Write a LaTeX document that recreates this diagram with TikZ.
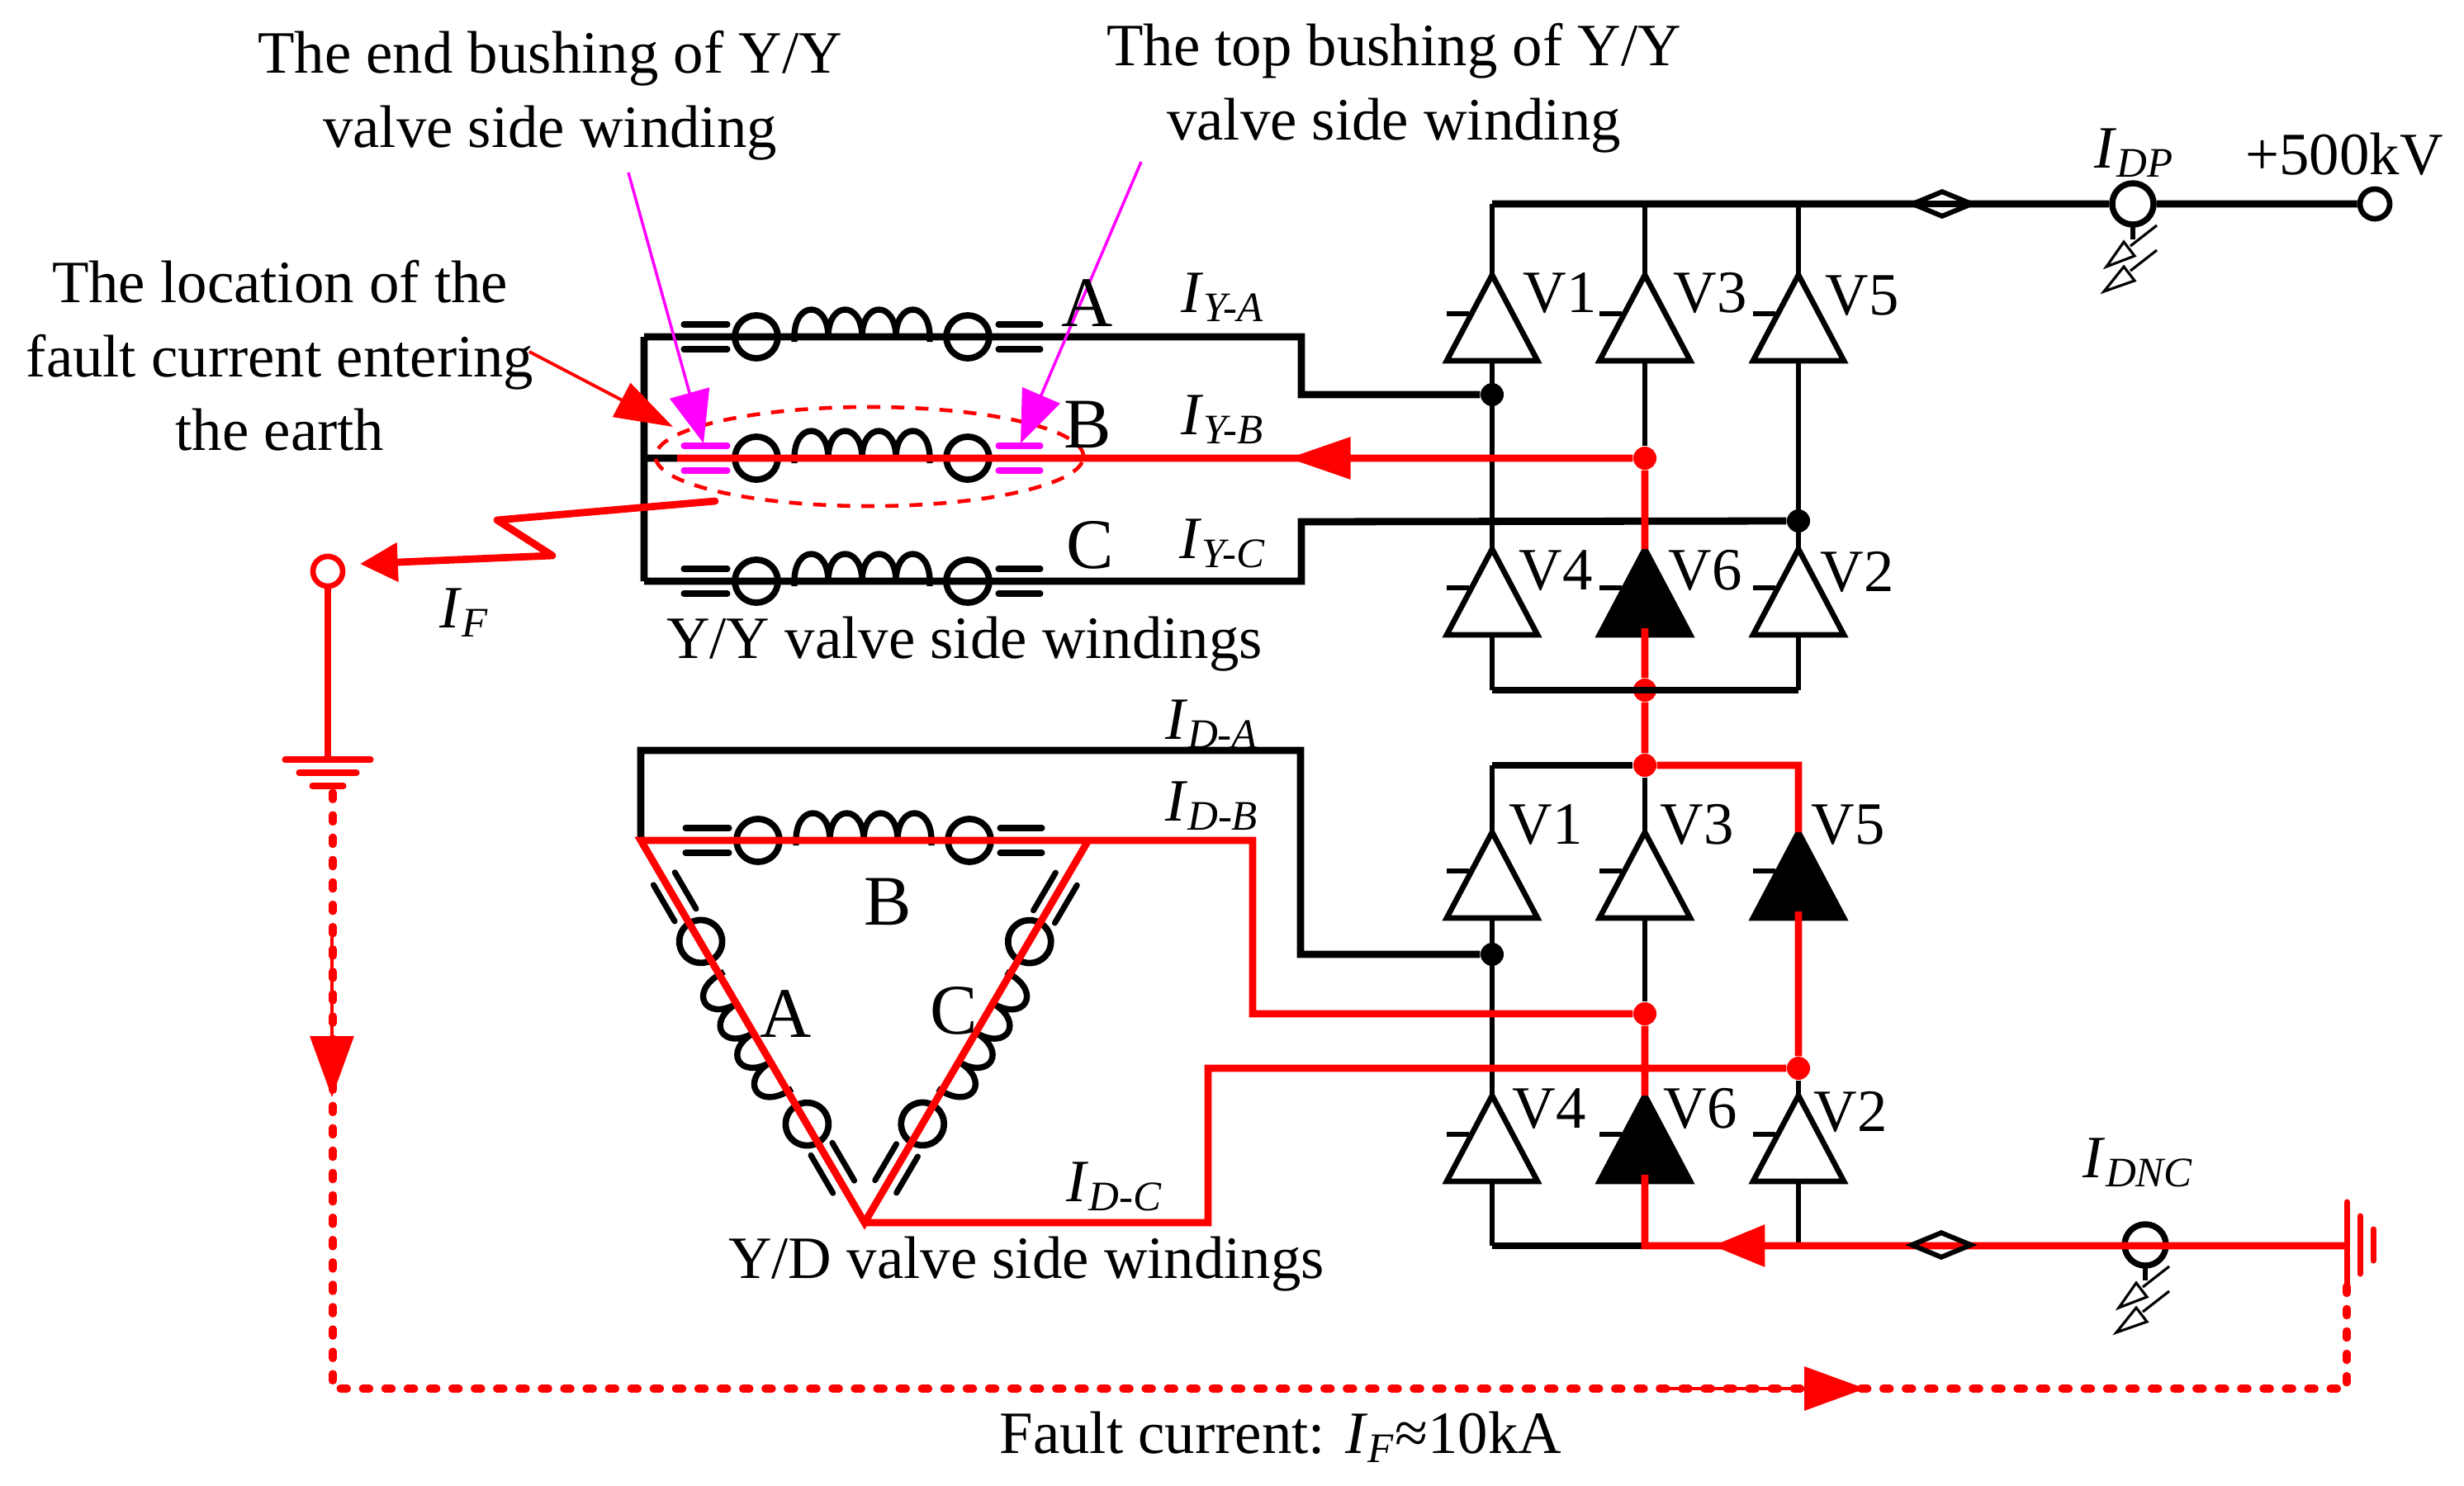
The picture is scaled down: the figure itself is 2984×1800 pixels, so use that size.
\documentclass[tikz,border=0pt]{standalone}
\usepackage{fontspec}
\setmainfont{Liberation Serif}
\usetikzlibrary{
    arrows.meta,
    shapes.geometric
}
\definecolor{bushing}{RGB}{255,0,255}
\definecolor{fault}{RGB}{255,0,0}
\newcommand{\curr}[1]{\textit{I}\textsubscript{\textit{#1}}}
\tikzset{
    wire/.style={line width=1.9pt},
    bus/.style={line width=2.5pt},
    barline/.style={line width=2pt, line cap=round},
    redwire/.style={line width=2.5pt, fault},
    faultdash/.style={line width=2.6pt, fault, line cap=round, dash pattern=on 2.4pt off 5.3pt},
    headed/.style 2 args={-{Triangle[length=#1, width=#2]}},
    dot/.style={circle, fill, inner sep=0pt, minimum size=0.28cm},
    ctcoil/.style={circle, draw, line width=2.1pt, inner sep=0pt, minimum size=0.5cm},
    terminal/.style={circle, draw, line width=1.9pt, inner sep=0pt, minimum size=0.32cm},
    filter/.style={diamond, draw, line width=1.7pt, inner sep=0pt, minimum width=0.74cm, minimum height=0.32cm},
    lbl/.style={inner sep=0pt, align=center, font=\fontsize{20.7}{25.5}\selectfont},
    phase/.style={inner sep=0pt, font=\fontsize{24.5}{28}\selectfont},
    windingbars/.style={},
    winding/.pic={
        \draw[barline, windingbars] (-216, -15) -- (-163, -15) (-216, 15) -- (-163, 15)
            (165, -15) -- (216, -15) (165, 15) -- (216, 15);
        \draw[line width=2.2pt] (-128, 0) circle (26) (128, 0) circle (26);
        \draw[line width=2.1pt] (-82, 6) -- (-82, 0)
            .. controls (-82, -44) and (-41, -44) .. (-41, 0)
            .. controls (-41, -44) and (0, -44) .. (0, 0)
            .. controls (0, -44) and (41, -44) .. (41, 0)
            .. controls (41, -44) and (82, -44) .. (82, 0) -- (82, 6);
    },
    valve/.pic={
        \coordinate (-a) at (0, 0);
        \coordinate (-k) at (0, 104);
        \draw[wire, pic actions] (0, 0) -- (55, 104) -- (-55, 104) -- cycle;
        \draw[wire] (-55, 47) -- (-28, 47);
    },
    ledpair/.pic={
        \draw[wire] (0, 0) -- (0, 17);
        \draw[line width=0.9pt] (29, 0) -- (-3, 25) (-11, 20) -- (2, 37) -- (-32, 50) -- cycle
            (29, 30) -- (-3, 55) (-11, 50) -- (2, 67) -- (-35, 80) -- cycle;
    },
    earth/.pic={
        \draw[barline, fault] (-52, 0) -- (52, 0) (-35, 16) -- (35, 16) (-19, 32) -- (19, 32);
    }
}
\begin{document}
\begin{tikzpicture}[x=0.01cm, y=-0.01cm]
    \useasboundingbox (0, 0) rectangle (2984, 1800);

    \coordinate (frameA) at (780, 408);
    \coordinate (frameB) at (780, 555);
    \coordinate (frameC) at (780, 704);
    \coordinate (stubB) at (820, 555);
    \coordinate (stepA) at (1576, 408);
    \coordinate (stepAlow) at (1576, 478);
    \coordinate (stepC) at (1576, 704);
    \coordinate (stepClow) at (1576, 632);
    \coordinate (top1) at (1807, 247);
    \coordinate (top2) at (1992, 247);
    \coordinate (top3) at (2178, 247);
    \coordinate (mid1) at (1807, 836);
    \coordinate (mid3) at (2178, 836);
    \coordinate (low1) at (1807, 927);
    \coordinate (low3) at (2178, 927);
    \coordinate (end1) at (1807, 1509);
    \coordinate (end2) at (1992, 1509);
    \coordinate (end3) at (2178, 1509);
    \coordinate (gndR) at (2842, 1509);
    \coordinate (deltaL) at (776, 1018);
    \coordinate (deltaR) at (1318, 1018);
    \coordinate (deltaB) at (1047, 1481);
    \coordinate (loopA) at (776, 909);
    \coordinate (loopAr) at (1575, 909);
    \coordinate (loopAd) at (1575, 1156);
    \coordinate (stepDB) at (1517, 1018);
    \coordinate (stepDBd) at (1517, 1228);
    \coordinate (stepDC) at (1463, 1481);
    \coordinate (stepDCu) at (1463, 1294);

    \pic (wYA) at (1044, 408) {winding};
    \pic[windingbars/.style={bushing}] (wYB) at (1044, 555) {winding};
    \pic (wYC) at (1044, 704) {winding};
    \pic (wDB) at (1046, 1018) {winding};
    \pic[rotate=120.2] (wDA) at (913, 1251) {winding};
    \pic[rotate=239.6] (wDC) at (1182, 1251) {winding};

    \pic (yV1) at (1807, 333) {valve};
    \pic (yV3) at (1992, 333) {valve};
    \pic (yV5) at (2178, 333) {valve};
    \pic (yV4) at (1807, 665) {valve};
    \pic[fill=black] (yV6) at (1992, 665) {valve};
    \pic (yV2) at (2178, 665) {valve};
    \pic (dV1) at (1807, 1008) {valve};
    \pic (dV3) at (1992, 1008) {valve};
    \pic[fill=black] (dV5) at (2178, 1008) {valve};
    \pic (dV4) at (1807, 1327) {valve};
    \pic[fill=black] (dV6) at (1992, 1327) {valve};
    \pic (dV2) at (2178, 1327) {valve};

    \node[dot] (jYA) at (1807, 478) {};
    \node[dot] (jYC) at (2178, 631) {};
    \node[dot] (jDA) at (1807, 1156) {};
    \node[dot, fault] (jYB) at (1992, 555) {};
    \node[dot, fault] (jMid) at (1992, 836) {};
    \node[dot, fault] (jLow) at (1992, 927) {};
    \node[dot, fault] (jDB) at (1992, 1228) {};
    \node[dot, fault] (jDC) at (2178, 1294) {};

    \node[terminal, minimum size=0.36cm] (termP) at (2876, 247) {};
    \node[ctcoil] (ctP) at (2583, 247) {};
    \node[ctcoil] (ctN) at (2598, 1508) {};
    \node[terminal, fault, minimum size=0.36cm] (termF) at (397, 692) {};

    \draw[bus] (frameB) -- (stubB)
    (frameA) -- (frameC)
    (frameA) -- (stepA) -- (stepAlow) -- (jYA)
    (frameC) -- (stepC) -- (stepClow) -- (jYC)
    (deltaL) -- (loopA) -- (loopAr) -- (loopAd) -- (jDA)
    (top1) -- (ctP) (ctP) -- (termP);
    \draw[wire]
    (top1) -- (yV1-a)
    (top2) -- (yV3-a)
    (top3) -- (yV5-a)
    (yV1-k) -- (yV4-a)
    (yV3-k) -- (jYB)
    (yV5-k) -- (yV2-a)
    (dV1-k) -- (dV4-a)
    (dV3-k) -- (jDB)
    (low1) -- (dV1-a)
    (jLow) -- (dV3-a)
    (jDC) -- (dV2-a)
    (yV4-k) -- (mid1)
    (yV2-k) -- (mid3)
    (dV4-k) -- (end1)
    (dV2-k) -- (end3);
    \draw[bus] (mid1) -- (mid3) (low1) -- (jLow) (end1) -- (end2);

    \draw[redwire] (stubB) -- (jYB)
    (jYB) -- (yV6-a)
    ([yshift=0.08cm]yV6-k) -- (jMid) -- (jLow) -- (low3) -- (dV5-a)
    ([yshift=0.08cm]dV5-k) -- (jDC)
    (jDB) -- (dV6-a)
    ([yshift=0.08cm]dV6-k) -- (end2) -- (gndR)
    (deltaL) -- (deltaR) -- (deltaB) -- cycle
    (deltaR) -- (stepDB) -- (stepDBd) -- (jDB)
    (deltaB) -- (stepDC) -- (stepDCu) -- (jDC);

    \node[filter, fill=white] (filterP) at (2352, 247) {};
    \draw[bus] (filterP.west) -- (filterP.east);
    \node[filter] (filterN) at (2351, 1508) {};
    \pic (ledP) at (2583, 273) {ledpair};
    \pic (ledN) at (2598, 1534) {ledpair};

    \draw[redwire, headed={21.5pt}{14pt}] (1650, 555) -- (1560, 555);
    \draw[redwire, headed={18pt}{14pt}] (2150, 1509) -- (2074, 1509);

    \node[ellipse, draw=fault, line width=1.3pt, dash pattern=on 4.5pt off 3.8pt, inner sep=0pt,
        minimum width=5.18cm, minimum height=1.2cm] (zone) at (1053, 553) {};
    \draw[bushing, line width=1pt, headed={18pt}{14pt}] (761, 209) -- (852, 537);
    \draw[bushing, line width=1pt, headed={18pt}{14pt}] (1382, 196) -- (1236, 537);
    \draw[fault, line width=1.1pt, headed={20pt}{13pt}] (641, 426) -- (815, 517);

    \coordinate (boltA) at (866, 607);
    \coordinate (boltB) at (602, 630);
    \coordinate (boltC) at (669, 673);
    \draw[redwire, line cap=round, line join=round, headed={13pt}{13pt}]
    (boltA) -- (boltB) -- (boltC) -- (436, 683);
    \draw[fault, line width=2pt] (termF) -- (397, 920);
    \pic (earthF) at (397, 920) {earth};
    \pic[rotate=90] (earthR) at (2842, 1508) {earth};

    \coordinate (pathA) at (403, 960);
    \coordinate (pathB) at (403, 1682);
    \coordinate (pathC) at (2842, 1682);
    \coordinate (pathD) at (2842, 1557);
    \draw[faultdash] (pathA) -- (pathB) -- (pathC) -- (pathD);
    \draw[fault, line width=1pt, headed={21pt}{15pt}] (402, 1135) -- (402, 1329);
    \draw[fault, line width=1pt, headed={21pt}{15pt}] (2020, 1682) -- (2259, 1682);

    \node[lbl] (endB) at (666, 116) {The end bushing of Y/Y\\valve side winding};
    \node[lbl] (topB) at (1688, 107) {The top bushing of Y/Y\\valve side winding};
    \node[lbl] (loc) at (339, 431) {The location of the\\fault current entering\\the earth};
    \node[phase] (phA) at (1317, 367) {A};
    \node[phase] (phB) at (1317, 514) {B};
    \node[phase] (phC) at (1320, 660) {C};
    \node[lbl] (iYA) at (1481, 360) {\curr{Y-A}};
    \node[lbl] (iYB) at (1481, 508) {\curr{Y-B}};
    \node[lbl] (iYC) at (1481, 658) {\curr{Y-C}};
    \node[lbl] (iF) at (563, 742) {\curr{F}};
    \node[lbl] (yyText) at (1168, 780) {Y/Y valve side windings};
    \node[lbl] (iDA) at (1468, 877) {\curr{D-A}};
    \node[lbl] (iDB) at (1468, 976) {\curr{D-B}};
    \node[lbl] (iDC) at (1350, 1437) {\curr{D-C}};
    \node[phase] (dlB) at (1075, 1092) {B};
    \node[phase] (dlA) at (952, 1228) {A};
    \node[phase] (dlC) at (1155, 1224) {C};
    \node[lbl] (ydText) at (1243, 1531) {Y/D valve side windings};
    \node[lbl] (faulttext) at (1551, 1741) {Fault current: \curr{F}≈10kA};
    \node[lbl] (iDP) at (2585, 185) {\curr{DP}};
    \node[lbl] (volt) at (2839, 187) {+500kV};
    \node[lbl] (iDNC) at (2590, 1408) {\curr{DNC}};
    \node[lbl] (lV1) at (1889, 355) {V1};
    \node[lbl] (lV3) at (2071, 355) {V3};
    \node[lbl] (lV5) at (2255, 358) {V5};
    \node[lbl] (lV4) at (1884, 691) {V4};
    \node[lbl] (lV6) at (2065, 691) {V6};
    \node[lbl] (lV2) at (2249, 693) {V2};
    \node[lbl] (lV1d) at (1872, 999) {V1};
    \node[lbl] (lV3d) at (2055, 999) {V3};
    \node[lbl] (lV5d) at (2238, 999) {V5};
    \node[lbl] (lV4d) at (1876, 1343) {V4};
    \node[lbl] (lV6d) at (2059, 1343) {V6};
    \node[lbl] (lV2d) at (2241, 1347) {V2};
\end{tikzpicture}
\end{document}
